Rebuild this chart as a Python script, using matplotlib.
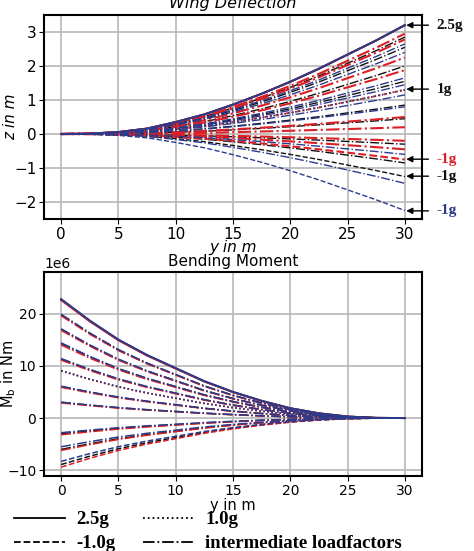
import matplotlib
matplotlib.use("Agg")
import matplotlib.pyplot as plt
from matplotlib.lines import Line2D
import numpy as np

# ---------------- data ----------------
load_factors = [2.5, 2.2, 1.9, 1.6, 1.25, 1.0, 0.67, 0.33, -0.33, -0.67, -1.0]
span = [0, 2.5, 5, 7.5, 10, 12.5, 15, 17.5, 20, 22.5, 25, 27.5, 30]
# normalised deflection profile along span
defl_shape = [0, 0.004, 0.018, 0.05, 0.11, 0.18, 0.27, 0.37, 0.48, 0.60, 0.73, 0.86, 1.0]
# normalised bending-moment profile along span
moment_shape = [1.0, 0.82, 0.66, 0.53, 0.42, 0.31, 0.22, 0.145, 0.083, 0.04, 0.013, 0.002, 0.0]

# tip deflections [m] per configuration
tip_black = [3.2, 2.85, 2.55, 2.0, 1.55, 1.3, 0.85, 0.45, -0.3, -0.85, -1.25]
tip_red = [3.2, 2.95, 2.78, 2.25, 1.88, 1.3, 0.5, 0.2, -0.2, -0.45, -0.75]
tip_blue = [3.2, 2.65, 2.4, 1.65, 1.45, 1.3, 1.15, 0.8, -0.6, -1.45, -2.25]

# root bending moments [1e6 Nm] per configuration
root_black = [22.7, 19.8, 17.0, 14.3, 11.3, 9.1, 6.05, 3.0, -3.0, -6.0, -8.9]
root_red = [22.6, 19.6, 16.8, 14.0, 11.1, 9.0, 5.9, 2.9, -3.2, -6.2, -9.4]
root_blue = [22.8, 19.9, 17.1, 14.4, 11.4, 9.1, 6.1, 3.05, -2.8, -5.5, -8.3]

legend_labels = ["2.5g", "-1.0g", "1.0g", "intermediate loadfactors"]
annot_labels = ["2.5g", "1g", "-1g", "-1g", "-1g"]
annot_values = [3.2, 1.32, -0.74, -1.24, -2.26]

# ---------------- style ----------------
C_BLACK = "#111111"
C_RED = "#dc1f26"
C_BLUE = "#2c3a8c"

def style_for(n):
    if n == 2.5:
        return "-"
    if n == 1.0:
        return ":"
    if n == -1.0:
        return "--"
    return "-."

fig = plt.figure(figsize=(4.74, 5.51), dpi=100)
ax1 = fig.add_axes([0.0928, 0.6025, 0.7975, 0.3703])
ax2 = fig.add_axes([0.0928, 0.1361, 0.7975, 0.3703])

span_a = np.array(span)
dshape = np.array(defl_shape)
mshape = np.array(moment_shape)

configs = [
    (C_BLACK, tip_black, root_black, 1.0),
    (C_RED, tip_red, root_red, 1.5),
    (C_BLUE, tip_blue, root_blue, 1.0),
]

for color, tips, roots, lw in configs:
    for n, t, r in zip(load_factors, tips, roots):
        ls = style_for(n)
        w = 1.4 if ls == "-" else lw
        ax1.plot(span_a, t * dshape, ls=ls, color=color, lw=w)
        ax2.plot(span_a, r * 1e6 * mshape, ls=ls, color=color, lw=1.4 if ls == "-" else 1.1)

for ax in (ax1, ax2):
    ax.grid(True, color="#b8b8b8", lw=1.2)
    ax.set_axisbelow(True)
    ax.set_xlim(-1.5, 31.5)
    ax.set_xticks([0, 5, 10, 15, 20, 25, 30])
    ax.tick_params(length=3.5, pad=2)
    for s in ax.spines.values():
        s.set_linewidth(1.5)

ax1.set_ylim(-2.5, 3.5)
ax1.set_yticks([-2, -1, 0, 1, 2, 3])
ax1.tick_params(labelsize=11)
ax1.set_title("Wing Deflection", fontsize=11.5, style="italic", pad=5)
ax1.set_xlabel("y in m", fontsize=11, style="italic")
ax1.set_ylabel("z in m", fontsize=11, style="italic")
ax1.xaxis.set_label_coords(0.5, -0.105)
ax1.yaxis.set_label_coords(-0.069, 0.5)

ax2.set_ylim(-11.1e6, 28e6)
ax2.set_yticks([-10e6, 0, 10e6, 20e6])
ax2.ticklabel_format(axis="y", style="sci", scilimits=(6, 6))
ax2.tick_params(labelsize=10)
ax2.yaxis.get_offset_text().set_fontsize(10)
ax2.set_title("Bending Moment", fontsize=11, pad=4)
ax2.set_xlabel("y in m", fontsize=10.5)
ax2.set_ylabel("M$_\\mathrm{b}$ in Nm", fontsize=10.5)
ax2.xaxis.set_label_coords(0.5, -0.11)
ax2.yaxis.set_label_coords(-0.069, 0.5)

annot_colors = [C_BLACK, C_BLACK, C_RED, C_BLACK, C_BLUE]
for lab, val, col in zip(annot_labels, annot_values, annot_colors):
    ax1.annotate(lab, xy=(30, val), xytext=(23, 0), textcoords="offset points",
                 ha="left", va="center", color=col, fontsize=11,
                 family="Liberation Serif", weight="bold", annotation_clip=False,
                 arrowprops=dict(arrowstyle="-|>", color="black", lw=1.0,
                                 shrinkA=4, shrinkB=1, mutation_scale=9))

handles = [
    Line2D([], [], color="black", ls="-", lw=1.3),
    Line2D([], [], color="black", ls="--", lw=1.3),
    Line2D([], [], color="black", ls=":", lw=1.3),
    Line2D([], [], color="black", ls="-.", lw=1.3),
]
fig.legend(handles, legend_labels, ncol=2, loc="upper left",
           bbox_to_anchor=(0.03, 0.072), frameon=False,
           prop=dict(family="Liberation Serif", weight="bold", size=13.5),
           handlelength=2.7, handletextpad=0.6, columnspacing=1.5,
           labelspacing=0.35, borderpad=0, borderaxespad=0)

fig.savefig("out.png", dpi=100)
